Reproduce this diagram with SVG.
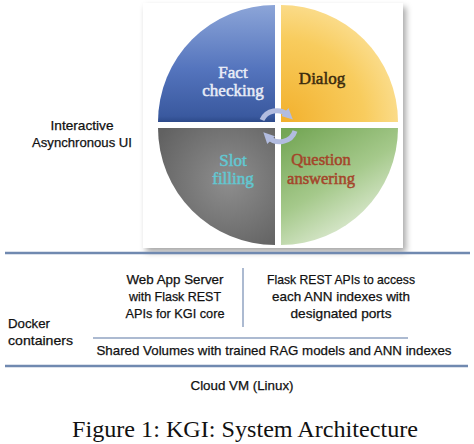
<svg xmlns="http://www.w3.org/2000/svg" width="474" height="444" viewBox="0 0 474 444">
<defs>
<style>
.sans{font-family:"Liberation Sans","DejaVu Sans",sans-serif;font-size:13px;fill:#111;text-anchor:middle;stroke:#111;stroke-width:0.25}
.q{font-family:"Liberation Serif","DejaVu Serif",serif;font-size:17px;text-anchor:middle;stroke-width:0.5}
.rule{stroke:#7089b0;stroke-width:2.5;fill:none}
.thin{stroke:#91a3c2;stroke-width:1.5;fill:none}
.cyc{stroke:#b2bce0;stroke-width:5;fill:none;stroke-linecap:butt}
</style>
<filter id="sh" x="-10%" y="-10%" width="125%" height="125%">
<feDropShadow dx="3" dy="4" stdDeviation="3" flood-color="#000" flood-opacity="0.35"/>
</filter>
<linearGradient id="gBlue" x1="0" y1="0" x2="0" y2="1">
<stop offset="0" stop-color="#8ca5d8"/>
<stop offset="0.55" stop-color="#5474bd"/>
<stop offset="0.95" stop-color="#3a599f"/>
<stop offset="1" stop-color="#2d4a8a"/>
</linearGradient>
<radialGradient id="gYel" cx="0" cy="1" r="1.3">
<stop offset="0" stop-color="#f2b02c"/>
<stop offset="0.55" stop-color="#f8cc5e"/>
<stop offset="1" stop-color="#fdebb5"/>
</radialGradient>
<radialGradient id="gGray" cx="0.6" cy="0.45" r="0.7">
<stop offset="0" stop-color="#8e8e8e"/>
<stop offset="1" stop-color="#616161"/>
</radialGradient>
<linearGradient id="gGreen" x1="0.1" y1="0" x2="0.7" y2="1">
<stop offset="0" stop-color="#74a655"/>
<stop offset="0.5" stop-color="#a5c98b"/>
<stop offset="1" stop-color="#eef4e7"/>
</linearGradient>
<marker id="ah" viewBox="0 0 10 10" refX="4" refY="5" markerWidth="11" markerHeight="11" markerUnits="userSpaceOnUse" orient="auto">
<path d="M0,0 L10,5 L0,10 z" fill="#b2bce0"/>
</marker>
</defs>
<rect width="474" height="444" fill="#fff"/>

<g id="frame">
<rect x="143" y="3" width="260" height="245" fill="#fff" filter="url(#sh)"/>
</g>

<g id="fact-checking">
<path d="M275,122 L158,122 A117,117 0 0 1 275,5 Z" fill="url(#gBlue)"/>
<text class="q" x="233" y="78" fill="#e9edf7" stroke="#e9edf7">Fact</text>
<text class="q" x="233" y="96" fill="#e9edf7" stroke="#e9edf7">checking</text>
</g>
<g id="dialog">
<path d="M281,122 L281,5 A117,117 0 0 1 398,122 Z" fill="url(#gYel)"/>
<text class="q" x="322" y="84" fill="#3b2b0e" stroke="#3b2b0e">Dialog</text>
</g>
<g id="slot-filling">
<path d="M275,128 L275,245 A117,117 0 0 1 158,128 Z" fill="url(#gGray)"/>
<text class="q" x="233" y="166" fill="#62c8d2" stroke="#62c8d2">Slot</text>
<text class="q" x="233" y="184" fill="#62c8d2" stroke="#62c8d2">filling</text>
</g>
<g id="question-answering">
<path d="M281,128 L398,128 A117,117 0 0 1 281,245 Z" fill="url(#gGreen)"/>
<text class="q" x="321" y="165" fill="#a4452a" stroke="#a4452a" style="font-size:16.5px">Question</text>
<text class="q" x="321" y="184" fill="#a4452a" stroke="#a4452a" style="font-size:16.5px">answering</text>
</g>

<g id="connectors">
<path class="cyc" d="M262,120 A16,15 0 0 1 288,115" marker-end="url(#ah)"/>
<path class="cyc" d="M295,131 A16,15 0 0 1 268,137" marker-end="url(#ah)"/>
</g>

<g id="ui-label">
<text class="sans" x="82" y="130" textLength="63" lengthAdjust="spacingAndGlyphs">Interactive</text>
<text class="sans" x="82" y="147" textLength="100" lengthAdjust="spacingAndGlyphs">Asynchronous UI</text>
</g>

<g id="rules">
<line class="rule" x1="5" y1="253" x2="470" y2="253"/>
<line class="rule" x1="5" y1="366" x2="468" y2="366"/>
<line class="thin" x1="243" y1="268" x2="243" y2="327"/>
<line class="thin" x1="93" y1="338" x2="408" y2="338"/>
</g>

<g id="web-app-server">
<text class="sans" x="175" y="284" textLength="97" lengthAdjust="spacingAndGlyphs">Web App Server</text>
<text class="sans" x="175" y="301" textLength="92" lengthAdjust="spacingAndGlyphs">with Flask REST</text>
<text class="sans" x="175" y="318" textLength="99" lengthAdjust="spacingAndGlyphs">APIs for KGI core</text>
</g>
<g id="ann-apis">
<text class="sans" x="341" y="284" textLength="148" lengthAdjust="spacingAndGlyphs">Flask REST APIs to access</text>
<text class="sans" x="341" y="301" textLength="138" lengthAdjust="spacingAndGlyphs">each ANN indexes with</text>
<text class="sans" x="341" y="318" textLength="101" lengthAdjust="spacingAndGlyphs">designated ports</text>
</g>
<g id="docker">
<text class="sans" x="8" y="328" style="text-anchor:start" textLength="42" lengthAdjust="spacingAndGlyphs">Docker</text>
<text class="sans" x="8" y="345" style="text-anchor:start" textLength="65" lengthAdjust="spacingAndGlyphs">containers</text>
</g>
<g id="shared-volumes">
<text class="sans" x="274" y="355" textLength="355" lengthAdjust="spacingAndGlyphs">Shared Volumes with trained RAG models and ANN indexes</text>
</g>
<g id="cloud-vm">
<text class="sans" x="242" y="390" textLength="103" lengthAdjust="spacingAndGlyphs">Cloud VM (Linux)</text>
</g>
<g id="caption">
<text x="245" y="437" font-family="'Liberation Serif','Times New Roman',serif" font-size="24" fill="#111" text-anchor="middle" textLength="346" lengthAdjust="spacingAndGlyphs">Figure 1: KGI: System Architecture</text>
</g>
</svg>
